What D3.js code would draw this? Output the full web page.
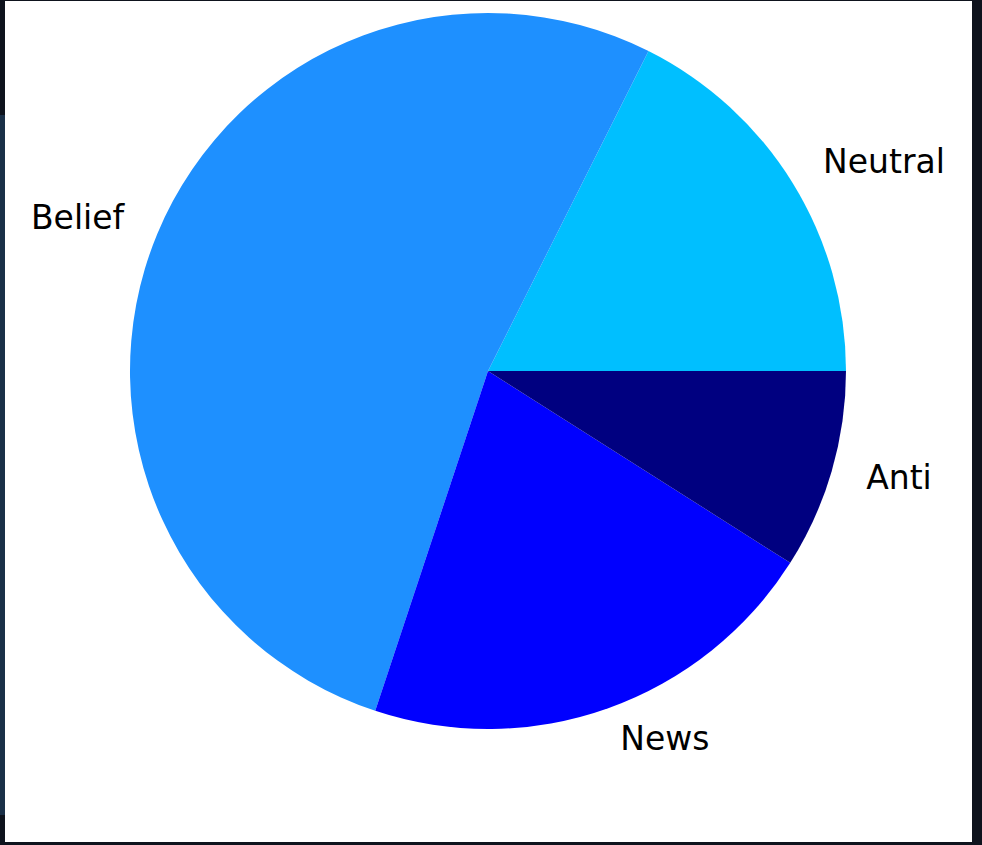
<!DOCTYPE html>
<html lang="en">
<head>
    <meta charset="UTF-8">
    <title>Pie</title>
    <script src="https://d3js.org/d3.v7.min.js"></script>
    <style>
        html, body { margin: 0; padding: 0; background: #0e131d; overflow: hidden; }
        svg { display: block; }
    </style>
</head>
<body>
    <div id="chart"></div>
    <script>
        // slice data (share of the circle, %)
        const labels = ['Neutral', 'Belief', 'News', 'Anti'];
        const values = [17.6, 52.3, 21.1, 9.0];
        const colors = ['#00bfff', '#1e90ff', '#0000ff', '#000080'];

        const width = 982;
        const height = 845;
        const cx = 488, cy = 371, radius = 358;

        const svg = d3.select('#chart').append('svg')
            .attr('width', width)
            .attr('height', height);

        // dark frame and white figure area
        svg.append('rect')
            .attr('width', width).attr('height', height)
            .attr('fill', '#0e131d');
        svg.append('rect')
            .attr('x', 0).attr('y', 115).attr('width', 5).attr('height', 700)
            .attr('fill', '#1a3048');
        svg.append('rect')
            .attr('x', 5).attr('y', 1)
            .attr('width', 967).attr('height', 841)
            .attr('fill', '#ffffff');

        // matplotlib style: start at 3 o'clock, go counterclockwise
        const pie = d3.pie()
            .sort(null)
            .value(d => d.value)
            .startAngle(Math.PI / 2)
            .endAngle(Math.PI / 2 - 2 * Math.PI);

        const data = labels.map((l, i) => ({ label: l, value: values[i], color: colors[i] }));
        const arcs = pie(data);

        const arc = d3.arc().innerRadius(0).outerRadius(radius);
        const labelArc = d3.arc().innerRadius(radius * 1.1).outerRadius(radius * 1.1);

        const g = svg.append('g').attr('transform', `translate(${cx},${cy})`);

        g.selectAll('path')
            .data(arcs)
            .enter()
            .append('path')
            .attr('d', arc)
            .attr('fill', d => d.data.color);

        g.selectAll('text')
            .data(arcs)
            .enter()
            .append('text')
            .attr('x', d => labelArc.centroid(d)[0])
            .attr('y', d => labelArc.centroid(d)[1] + 8.5)
            .attr('text-anchor', d => labelArc.centroid(d)[0] > 0 ? 'start' : 'end')
            .attr('font-family', 'DejaVu Sans, sans-serif')
            .attr('font-size', 33)
            .attr('fill', '#000')
            .text(d => d.data.label);
    </script>
</body>
</html>
